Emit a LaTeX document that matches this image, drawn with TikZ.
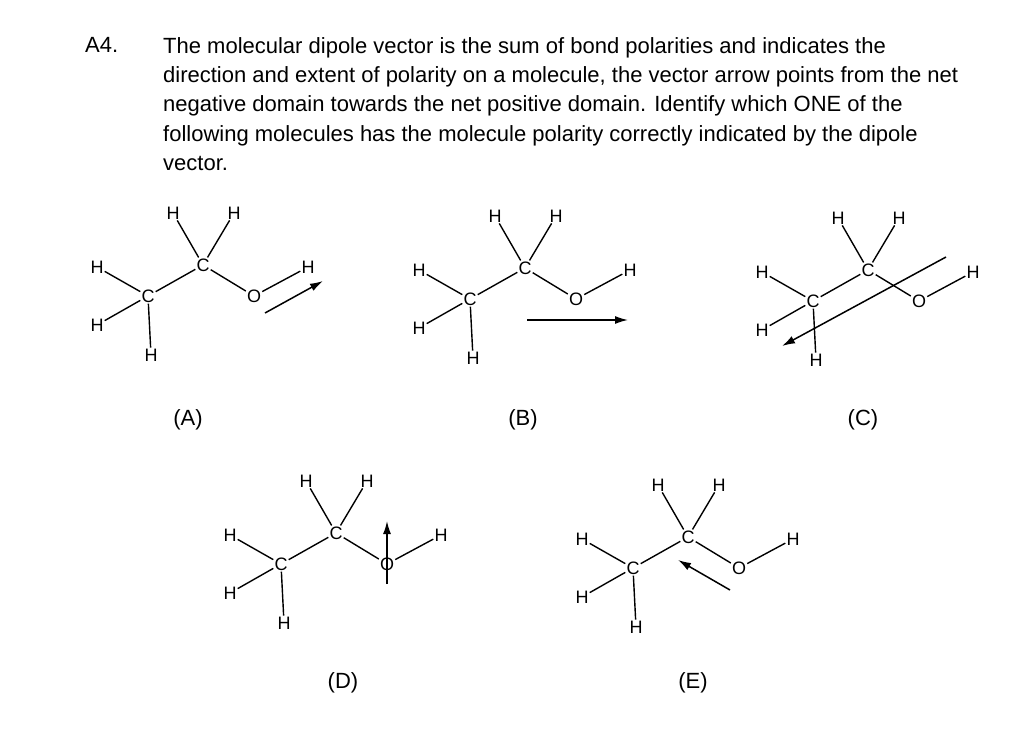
\documentclass[tikz,border=0pt]{standalone}
\usepackage{fontspec}
\setmainfont{Liberation Sans}
\usetikzlibrary{arrows.meta}
\tikzset{atom/.style={inner sep=1pt,font=\fontsize{18}{18}\selectfont},
 bond/.style={line width=1.4pt},
 dip/.style={line width=1.5pt,-{Latex[length=13pt,width=8pt]}},
 lab/.style={font=\fontsize{22}{22}\selectfont}}
\newcommand{\molec}[3]{%
 \begin{scope}[shift={(#2,#3)}]
 \node[atom] (#1c1) at (0,0) {C};
 \node[atom] (#1c2) at (55,-31) {C};
 \node[atom] (#1o) at (106,0) {O};
 \node[atom] (#1ho) at (160,-29) {H};
 \node[atom] (#1ht1) at (25,-83) {H};
 \node[atom] (#1ht2) at (86,-83) {H};
 \node[atom] (#1hl) at (-51,-29) {H};
 \node[atom] (#1hll) at (-51,29) {H};
 \node[atom] (#1hb) at (3,59) {H};
 \draw[bond] (#1c1)--(#1c2) (#1c2)--(#1o) (#1o)--(#1ho) (#1c2)--(#1ht1) (#1c2)--(#1ht2)
   (#1c1)--(#1hl) (#1c1)--(#1hll) (#1c1)--(#1hb);
 \end{scope}}
\begin{document}
\begin{tikzpicture}[x=1pt,y=-1pt]
\useasboundingbox (0,0) rectangle (1022,736);
\node[anchor=north west,inner sep=0,font=\fontsize{22}{22}\selectfont] (q) at (85,37) {A4.};
\node[anchor=north west,inner sep=0,font=\fontsize{22}{29.3}\selectfont,align=left] (t) at (163,37)
{The molecular dipole vector is the sum of bond polarities and indicates the\\
direction and extent of polarity on a molecule, the vector arrow points from the net\\
negative domain towards the net positive domain. Identify which ONE of the\\
following molecules has the molecule polarity correctly indicated by the dipole\\
vector.};
\molec{a}{148}{296}
\molec{b}{470}{299}
\molec{c}{813}{301}
\molec{d}{281}{564}
\molec{e}{633}{568}
\coordinate (a1) at (265,313); \coordinate (a2) at (323,281);
\draw[dip] (a1)--(a2);
\coordinate (b1) at (527,320); \coordinate (b2) at (628,320);
\draw[dip] (b1)--(b2);
\coordinate (c1) at (946,257); \coordinate (c2) at (782,346);
\draw[dip] (c1)--(c2);
\coordinate (d1) at (387,584); \coordinate (d2) at (387,521);
\draw[dip] (d1)--(d2);
\coordinate (e1) at (730,590); \coordinate (e2) at (678,560);
\draw[dip] (e1)--(e2);
\node[lab] (la) at (188,420) {(A)};
\node[lab] (lb) at (523,420) {(B)};
\node[lab] (lc) at (863,420) {(C)};
\node[lab] (ld) at (343,683) {(D)};
\node[lab] (le) at (693,683) {(E)};
\end{tikzpicture}
\end{document}
